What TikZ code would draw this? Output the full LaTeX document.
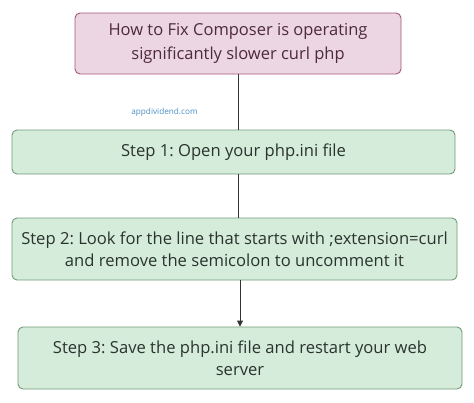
\documentclass[tikz,border=0pt]{standalone}
\usepackage{fontspec}
\setmainfont{Open Sans}
\usetikzlibrary{arrows.meta}
\definecolor{pinkfill}{HTML}{ECD6E3}
\definecolor{pinkdraw}{HTML}{A4567A}
\definecolor{pinktext}{HTML}{4E2A3C}
\definecolor{greenfill}{HTML}{D5ECDA}
\definecolor{greendraw}{HTML}{6F9B78}
\definecolor{greentext}{HTML}{2A332D}
\definecolor{linkblue}{HTML}{4C8FC4}
\definecolor{linecol}{HTML}{333333}
\tikzset{
  titlebox/.style={draw=pinkdraw, fill=pinkfill, line width=0.9pt, rounded corners=5pt,
    text=pinktext, font=\fontsize{16.5}{24}\selectfont, align=center, inner sep=0pt},
  stepbox/.style={draw=greendraw, fill=greenfill, line width=0.9pt, rounded corners=5pt,
    text=greentext, font=\fontsize{16.6}{22.5}\selectfont, align=center, inner sep=0pt},
  conn/.style={draw=linecol, line width=0.9pt},
}
\begin{document}
\frenchspacing
\begin{tikzpicture}[x=1pt,y=-1pt]
\useasboundingbox (0,0) rectangle (474,402);
\node[titlebox, minimum width=326pt, minimum height=61pt] (t) at (238,43.5)
  {How to Fix Composer is operating\\significantly slower curl php};
\node[stepbox, minimum width=443pt, minimum height=44pt] (s1) at (233.5,152)
  {Step 1: Open your php.ini file};
\node[stepbox, minimum width=445pt, minimum height=62pt] (s2) at (234.5,249)
  {Step 2: Look for the line that starts with ;extension=curl\\and remove the semicolon to uncomment it};
\node[stepbox, minimum width=444pt, minimum height=62pt] (s3) at (240,358)
  {Step 3: Save the php.ini file and restart your web\\server};
\node[text=linkblue, font=\fontsize{8.2}{9}\selectfont, inner sep=0pt] (wm) at (164.5,112) {appdividend.com};
\draw[conn] (t.south -| 238,0) -- (s1.north -| 238,0);
\draw[conn] (s1.south -| 238,0) -- (s2.north -| 238,0);
\draw[conn, -{Triangle[length=6pt,width=6pt]}] (s2.south -| 240,0) -- (s3.north -| 240,0);
\end{tikzpicture}
\end{document}
